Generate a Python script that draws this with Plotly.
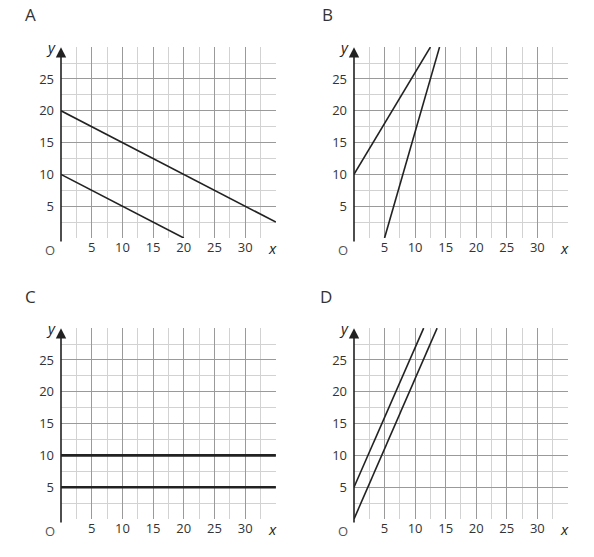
import plotly.graph_objects as go

OUT_HTML = "out.html"

# panel letters and the two lines drawn in each panel
PANELS = ["A", "B", "C", "D"]

A_line1_x = [0, 35]
A_line1_y = [20, 2.5]
A_line2_x = [0, 20]
A_line2_y = [10, 0]

B_line1_x = [0, 12.5]
B_line1_y = [10, 30]
B_line2_x = [5, 14]
B_line2_y = [0, 30]

C_line1_x = [0, 35]
C_line1_y = [10, 10]
C_line2_x = [0, 35]
C_line2_y = [5, 5]

D_line1_x = [0, 11.4]
D_line1_y = [5, 30]
D_line2_x = [0, 13.6]
D_line2_y = [0, 30]

x_ticks = [5, 10, 15, 20, 25, 30]
y_ticks = [5, 10, 15, 20, 25]

LINES = {
    "A": [(A_line1_x, A_line1_y), (A_line2_x, A_line2_y)],
    "B": [(B_line1_x, B_line1_y), (B_line2_x, B_line2_y)],
    "C": [(C_line1_x, C_line1_y), (C_line2_x, C_line2_y)],
    "D": [(D_line1_x, D_line1_y), (D_line2_x, D_line2_y)],
}

W, H = 594, 557
# plot area of each panel in pixels: left, right, top, bottom
BOXES = {
    "A": (61, 276, 47, 238),
    "B": (354, 568, 47, 238),
    "C": (61, 276, 328, 519),
    "D": (354, 568, 328, 519),
}
LETTER_POS = {"A": (30, 15), "B": (327, 15), "C": (30, 296), "D": (326, 296)}

FONT = "Open Sans"
INK = "#222222"

fig = go.Figure()
annotations = []

for i, p in enumerate(PANELS):
    n = "" if i == 0 else str(i + 1)
    xa, ya = "x" + n, "y" + n
    left, right, top, bottom = BOXES[p]
    width = 2.6 if p == "C" else 1.6
    for xs, ys in LINES[p]:
        fig.add_trace(go.Scatter(x=xs, y=ys, mode="lines", xaxis=xa, yaxis=ya,
                                 line=dict(color=INK, width=width),
                                 showlegend=False, hoverinfo="skip",
                                 cliponaxis=True))
    axis_common = dict(
        showline=False, zeroline=False, showgrid=True,
        gridcolor="#9a9a9a", gridwidth=1,
        tickmode="array", ticks="", ticklen=0,
        tickfont=dict(family=FONT, size=13, color="#333333"),
        minor=dict(dtick=2.5, tick0=0, showgrid=True, gridcolor="#d2d2d2", gridwidth=1),
        fixedrange=True,
    )
    fig.layout["xaxis" + n] = dict(
        axis_common, domain=[left / W, right / W], range=[0, 35.02],
        tickvals=x_ticks, ticktext=[str(v) for v in x_ticks],
        anchor=ya, ticklabelstandoff=0,
    )
    fig.layout["yaxis" + n] = dict(
        axis_common, domain=[1 - bottom / H, 1 - top / H], range=[0, 30.02],
        tickvals=y_ticks, ticktext=[str(v) for v in y_ticks],
        anchor=xa, ticklabelstandoff=6,
    )
    # axes with arrows
    annotations.append(dict(x=35.4, y=0, ax=-0.7, ay=0, xref=xa, yref=ya,
                            axref=xa, ayref=ya, text="", showarrow=True,
                            arrowhead=2, arrowsize=1.3, arrowwidth=1.6,
                            arrowcolor=INK))
    annotations.append(dict(x=0, y=30.0, ax=0, ay=-0.8, xref=xa, yref=ya,
                            axref=xa, ayref=ya, text="", showarrow=True,
                            arrowhead=2, arrowsize=1.3, arrowwidth=1.6,
                            arrowcolor=INK))
    annotations.append(dict(x=0, y=0, xref=xa, yref=ya, text="O", showarrow=False,
                            xanchor="right", yanchor="top", xshift=-4, yshift=-1,
                            font=dict(family=FONT, size=13, color="#555555")))
    annotations.append(dict(x=0, y=30, xref=xa, yref=ya, text="<i>y</i>",
                            showarrow=False, xanchor="right", yanchor="middle",
                            xshift=-3, yshift=0,
                            font=dict(family=FONT, size=15, color=INK)))
    annotations.append(dict(x=35, y=0, xref=xa, yref=ya, text="<i>x</i>",
                            showarrow=False, xanchor="center", yanchor="top",
                            xshift=-3, yshift=2,
                            font=dict(family=FONT, size=15, color=INK)))
    lx, ly = LETTER_POS[p]
    annotations.append(dict(x=lx / W, y=1 - ly / H, xref="paper", yref="paper",
                            text=p, showarrow=False, xanchor="center",
                            yanchor="middle",
                            font=dict(family=FONT, size=17, color="#333333")))

fig.update_layout(
    width=W, height=H,
    margin=dict(l=0, r=0, t=0, b=0),
    plot_bgcolor="white", paper_bgcolor="white",
    annotations=annotations,
)

fig.write_html(OUT_HTML, config={"displayModeBar": False},
               post_script="document.body.style.margin='0';")
